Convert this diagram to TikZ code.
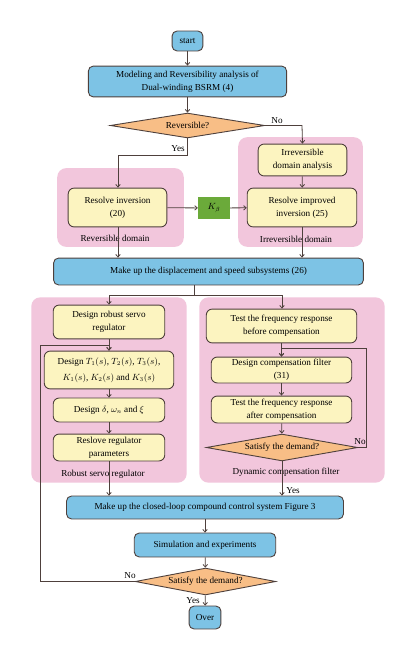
\documentclass[tikz,border=0pt]{standalone}
\usepackage{fontspec}
\setmainfont{Liberation Serif}
\usetikzlibrary{shapes.geometric,arrows.meta}
\definecolor{lineC}{HTML}{4E403C}
\definecolor{blueC}{HTML}{7DC3E5}
\definecolor{yelC}{HTML}{FCF4C0}
\definecolor{pinkC}{HTML}{F2C6DC}
\definecolor{orC}{HTML}{F8BE86}
\definecolor{greenC}{HTML}{6BAA3A}
\begin{document}
\begin{tikzpicture}[x=1bp,y=-1bp,
  every node/.style={font=\fontsize{9.2}{13}\selectfont, text=black, inner sep=0pt, align=center},
  bluebox/.style={fill=blueC, draw=lineC, line width=0.9pt, rounded corners=5pt},
  yelbox/.style={fill=yelC, draw=lineC, line width=0.9pt, rounded corners=6pt},
  region/.style={fill=pinkC, rounded corners=9pt},
  decide/.style={diamond, fill=orC, draw=lineC, line width=0.9pt, shape aspect=5.8},
  conn/.style={draw=lineC, line width=0.8pt},
  arr/.style={conn, -{Straight Barb[length=2.6pt,width=4.5pt]}},
  lab/.style={font=\fontsize{9.2}{11}\selectfont}
]
\useasboundingbox (0,0) rectangle (415,660);
\fill[white] (0,0) rectangle (415,660);

% regions
\node[region, minimum width=127, minimum height=79] (revreg) at (120.5,207.5) {};
\node[region, minimum width=125, minimum height=110] (irrreg) at (300.5,192) {};
\node[region, minimum width=156, minimum height=186] (robreg) at (109,390) {};
\node[region, minimum width=186, minimum height=186] (dynreg) at (292,390) {};

% nodes
\node[bluebox, minimum width=31, minimum height=20] (start) at (187.5,41) {start};
\node[bluebox, minimum width=199, minimum height=31] (model) at (187.5,81.5) {Modeling and Reversibility analysis of\\Dual-winding BSRM (4)};
\node[decide, minimum width=155, minimum height=25] (rev) at (187.5,125.5) {Reversible?};
\node[yelbox, minimum width=89, minimum height=32] (irrana) at (302.5,160) {Irreversible\\domain analysis};
\node[yelbox, minimum width=99, minimum height=39] (resinv) at (117.5,207.5) {Resolve inversion\\(20)};
\node[fill=greenC, minimum width=32, minimum height=22] (kb) at (214,208) {$K_\beta$};
\node[yelbox, minimum width=110, minimum height=39] (resimp) at (302,207.5) {Resolve improved\\inversion (25)};
\node[bluebox, minimum width=311, minimum height=27] (disp) at (208.5,271.5) {Make up the displacement and speed subsystems (26)};

\node[yelbox, minimum width=112, minimum height=34] (drs) at (109,322) {Design robust servo\\regulator};
\node[yelbox, minimum width=130, minimum height=38, font=\fontsize{9.2}{16}\selectfont] (dT) at (109,370) {Design $T_1(s)$, $T_2(s)$, $T_3(s)$,\\$K_1(s)$, $K_2(s)$ and $K_3(s)$};
\node[yelbox, minimum width=112, minimum height=24] (dd) at (109,410) {Design $\delta$, $\omega_n$ and $\xi$};
\node[yelbox, minimum width=112, minimum height=27] (rrp) at (109,447.5) {Reslove regulator\\parameters};

\node[yelbox, minimum width=151, minimum height=34] (tfb) at (281.5,326) {Test the frequency response\\before compensation};
\node[yelbox, minimum width=141, minimum height=26] (dcf) at (281.5,370) {Design compensation filter\\(31)};
\node[yelbox, minimum width=141, minimum height=27] (tfa) at (281.5,409.5) {Test the frequency response\\after compensation};
\node[decide, minimum width=152, minimum height=27] (sat1) at (282,447.5) {Satisfy the demand?};

\node[bluebox, minimum width=278, minimum height=23] (closed) at (205,507.5) {Make up the closed-loop compound control system Figure 3};
\node[bluebox, minimum width=142, minimum height=24] (sim) at (205,545) {Simulation and experiments};
\node[decide, minimum width=141, minimum height=27] (sat2) at (205.5,581.5) {Satisfy the demand?};
\node[bluebox, minimum width=32, minimum height=23] (over) at (205,617.5) {Over};

% region labels
\node[lab] (lrev) at (115,238) {Reversible domain};
\node[lab] (lirr) at (296,239) {Irreversible domain};
\node[lab] (lrob) at (103,474) {Robust servo regulator};
\node[lab] (ldyn) at (286,472) {Dynamic compensation filter};

% coordinates
\coordinate (noR) at (302,125.5);
\coordinate (yesA) at (187.5,155);
\coordinate (yesB) at (118,155);
\coordinate (dispdown) at (194,295);
\coordinate (splitL) at (109,295);
\coordinate (splitR) at (282,295);
\coordinate (loopL) at (40,581.5);
\coordinate (loopLT) at (40,345);
\coordinate (loopLE) at (109,345);
\coordinate (loopR) at (366,447.5);
\coordinate (loopRT) at (366,348);
\coordinate (loopRE) at (281.5,348);

% connectors
\draw[arr] (start) -- (model);
\draw[arr] (model) -- (rev);
\draw[arr] (rev.east) -- (noR) -- (irrana.north);
\draw[arr] (rev.south) -- (yesA) -- (yesB) -- (resinv.north -| yesB);
\draw[arr] (irrana) -- (resimp);
\draw[arr] (resinv) -- (kb);
\draw[arr] (kb) -- (resimp);
\draw[arr] (resinv.south -| yesB) -- (disp.north -| yesB);
\draw[arr] (resimp.south) -- (disp.north -| resimp.south);
\draw[conn] (disp.south -| dispdown) -- (dispdown);
\draw[arr] (splitR) -- (splitL) -- (drs.north);
\draw[arr] (splitL) -- (splitR) -- (tfb.north -| splitR);
\draw[arr] (drs) -- (dT);
\draw[arr] (dT) -- (dd);
\draw[arr] (dd) -- (rrp);
\draw[arr] (rrp.south) -- (closed.north -| rrp.south);
\draw[arr] (sat2.west) -- (loopL) -- (loopLT) -- (loopLE) -- (dT.north);
\draw[arr] (tfb) -- (dcf);
\draw[arr] (dcf) -- (tfa);
\draw[arr] (tfa) -- (sat1);
\draw[arr] (sat1.east) -- (loopR) -- (loopRT) -- (loopRE) -- (dcf.north);
\draw[arr] (sat1.south) -- (closed.north -| sat1.south);
\draw[arr] (closed) -- (sim);
\draw[arr] (sim) -- (sat2);
\draw[arr] (sat2) -- (over);

% branch labels
\node[lab] (tno1) at (277,121) {No};
\node[lab] (tyes1) at (178,149) {Yes};
\node[lab] (tno2) at (360,442) {No};
\node[lab] (tyes2) at (293,491) {Yes};
\node[lab] (tno3) at (130,576) {No};
\node[lab] (tyes3) at (193,601) {Yes};
\end{tikzpicture}
\end{document}
